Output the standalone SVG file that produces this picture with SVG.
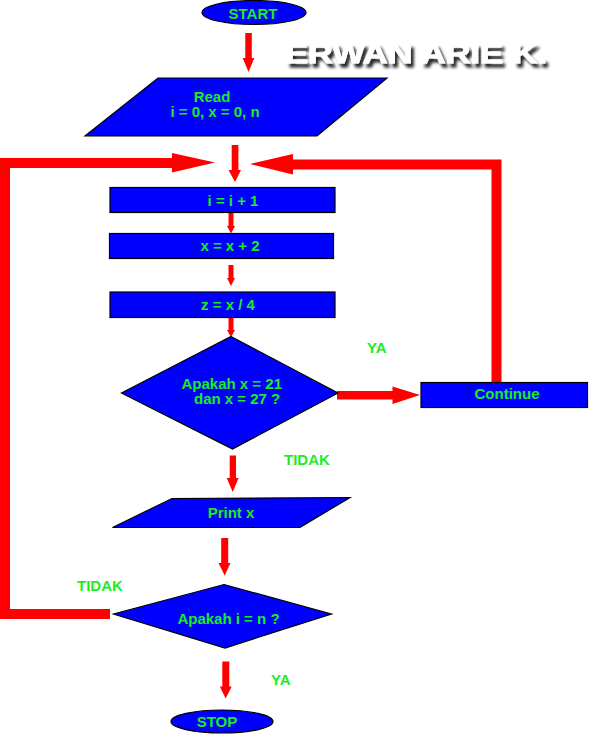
<svg xmlns="http://www.w3.org/2000/svg" width="589" height="736" viewBox="0 0 589 736">
<style>
.node{fill:#0000ff;stroke:#000;stroke-width:1.2}
.t{font-family:"Liberation Sans",Arial,sans-serif;font-weight:bold;font-size:15px;fill:#19ee22}
.c{text-anchor:middle}
.lbl{font-family:"Liberation Sans",Arial,sans-serif;font-weight:bold;font-size:15px;fill:#19ee22}
.line{fill:none;stroke:#ff0000;stroke-width:10;stroke-linejoin:miter}
.ar{fill:#ff0000}
</style>
<defs>
<filter id="sh" x="-10%" y="-40%" width="130%" height="200%">
<feGaussianBlur in="SourceAlpha" stdDeviation="1.8"/>
<feOffset dx="3" dy="4" result="b"/>
<feComponentTransfer in="b"><feFuncA type="linear" slope="0.85"/></feComponentTransfer>
<feMerge><feMergeNode/><feMergeNode in="SourceGraphic"/></feMerge>
</filter>
</defs>
<rect width="589" height="736" fill="#fff"/>
<text x="285" y="63.3" font-family="'Liberation Sans',Arial,sans-serif" font-weight="bold" font-size="28.5" fill="#fff" stroke="#ffffff" stroke-width="0.8" textLength="262" lengthAdjust="spacingAndGlyphs" filter="url(#sh)">ERWAN ARIE K.</text>

<g id="connectors">
<!-- START -> Read -->
<rect class="ar" x="245.3" y="33" width="6.5" height="26"/>
<polygon class="ar" points="242.7,58 254.3,58 248.5,72"/>
<!-- Read -> loop junction -->
<rect class="ar" x="231.7" y="145" width="6.7" height="26"/>
<polygon class="ar" points="228.5,170 241,170 235,182"/>
<!-- left loop (TIDAK from Apakah i = n) -->
<polyline class="line" points="110,614 5,614 5,163 173,163"/>
<polygon class="ar" points="172,153 215,162.5 172,172.5"/>
<!-- right loop from Continue -->
<polyline class="line" points="496.5,382 496.5,164.5 292,164.5"/>
<polygon class="ar" points="293,154 250,164 293,174.5"/>
<!-- box1 -> box2 -->
<rect class="ar" x="228.5" y="212" width="5" height="16"/>
<polygon class="ar" points="227,226 235,226 231,233.5"/>
<!-- box2 -> box3 -->
<rect class="ar" x="228.5" y="265" width="5" height="14"/>
<polygon class="ar" points="227,278 235,278 231,286"/>
<!-- box3 -> diamond1 -->
<rect class="ar" x="228.5" y="317" width="5" height="14"/>
<polygon class="ar" points="227,330 235,330 231,337"/>
<!-- diamond1 -> Continue -->
<rect class="ar" x="337" y="391" width="57" height="8.5"/>
<polygon class="ar" points="392.5,386.5 420,395 392.5,404"/>
<!-- diamond1 -> Print -->
<rect class="ar" x="229.7" y="455.5" width="6.3" height="24"/>
<polygon class="ar" points="226.8,478 238.6,478 232.7,492"/>
<!-- Print -> diamond2 -->
<rect class="ar" x="221.2" y="538" width="7" height="26"/>
<polygon class="ar" points="218.5,563 230.5,563 224.7,575.5"/>
<!-- diamond2 -> STOP -->
<rect class="ar" x="222.3" y="661.5" width="7" height="26"/>
<polygon class="ar" points="219.8,686.5 231.7,686.5 225.7,698.5"/>
</g>

<g id="start">
<ellipse class="node" cx="254" cy="12.5" rx="52" ry="12"/>
<text class="t c" x="253" y="18.5">START</text>
</g>
<g id="read">
<polygon class="node" points="158,78 387,78 317,136 85,136"/>
<text class="t c" x="212" y="101.5">Read</text>
<text class="t c" x="215" y="116.5">i = 0, x = 0, n</text>
</g>
<g id="inc-i">
<rect class="node" x="110" y="187.5" width="225" height="25"/>
<text class="t c" x="233" y="205.5">i = i + 1</text>
</g>
<g id="inc-x">
<rect class="node" x="109.5" y="233.5" width="224" height="25"/>
<text class="t c" x="230" y="251">x = x + 2</text>
</g>
<g id="calc-z">
<rect class="node" x="110" y="292" width="225" height="25.5"/>
<text class="t c" x="228" y="310">z = x / 4</text>
</g>
<g id="decision1">
<polygon class="node" points="231,336.5 338,393 232.5,449 121.5,393"/>
<text class="t" x="181.5" y="389">Apakah x = 21</text>
<text class="t" x="194" y="404">dan x = 27 ?</text>
</g>
<g id="continue">
<rect class="node" x="421" y="382.5" width="166.5" height="25"/>
<text class="t c" x="507" y="398.5">Continue</text>
</g>
<g id="print">
<polygon class="node" points="172,498.5 350,497.5 300,527.5 112.5,527.5"/>
<text class="t c" x="231" y="517.5">Print x</text>
</g>
<g id="decision2">
<polygon class="node" points="224,584.5 331.5,614 225,648 113.5,614"/>
<text class="t c" x="228.5" y="624">Apakah i = n ?</text>
</g>
<g id="stop">
<ellipse class="node" cx="222" cy="721.5" rx="51" ry="11.5"/>
<text class="t c" x="217" y="726.5">STOP</text>
</g>

<g id="labels">
<text class="lbl" x="367" y="353">YA</text>
<text class="lbl" x="284" y="465">TIDAK</text>
<text class="lbl" x="77" y="591">TIDAK</text>
<text class="lbl" x="271" y="685">YA</text>
</g>
</svg>
